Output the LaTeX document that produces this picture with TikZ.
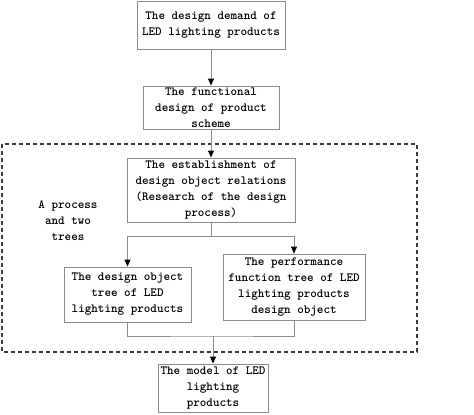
\documentclass[tikz,border=0pt]{standalone}
\usepackage{fontspec}
\usetikzlibrary{arrows.meta}
\definecolor{boxLine}{RGB}{140,140,140}
\definecolor{frameLine}{RGB}{60,60,60}
\tikzset{
  box/.style={draw=boxLine, line width=0.9pt, align=center, inner sep=0pt,
    font=\fontsize{12.5}{16}\selectfont\ttfamily\bfseries},
  link/.style={draw=boxLine, line width=0.9pt,
    -{Triangle[length=7pt,width=6pt,color=black,fill=black]}},
  joint/.style={draw=boxLine, line width=0.9pt}
}
\begin{document}
\begin{tikzpicture}[x=1pt,y=-1pt]
  \useasboundingbox (0,0) rectangle (474,415);
  % Frame round the process and the two trees
  \draw[frameLine, line width=1.1pt, dash pattern=on 4pt off 3pt] (2,144) rectangle (417,352);
  \node[font=\fontsize{12.5}{16}\selectfont\ttfamily\bfseries, align=center] (frameLabel) at (68,221) {A process\\and two\\trees};
  % Boxes
  \node[box, minimum width=148, minimum height=48] (demand) at (211,25) {The design demand of\\LED lighting products};
  \node[box, minimum width=136, minimum height=43] (functional) at (211,107.5) {The functional\\design of product\\scheme};
  \node[box, minimum width=168, minimum height=64] (relation) at (211,190) {The establishment of\\design object relations\\(Research of the design\\process)};
  \node[box, minimum width=127, minimum height=55] (objectTree) at (127.5,294.5) {The design object\\tree of LED\\lighting products};
  \node[box, minimum width=142, minimum height=66] (perfTree) at (294,287) {The performance\\function tree of LED\\lighting products\\design object};
  \node[box, minimum width=110, minimum height=48] (model) at (213,388) {The model of LED\\lighting\\products};
  % Connectors
  \draw[link] (demand) -- (functional);
  \draw[link] (functional) -- (relation);
  \draw[joint] (relation.south) -- ++(0,14) coordinate (split);
  \draw[link] (split) -| (objectTree.north);
  \draw[link] (split) -| (perfTree.north);
  \coordinate (join) at (213,336);
  \draw[joint] (objectTree.south) |- (join) -| (perfTree.south);
  \draw[link] (join) -- (model.north);
\end{tikzpicture}
\end{document}
